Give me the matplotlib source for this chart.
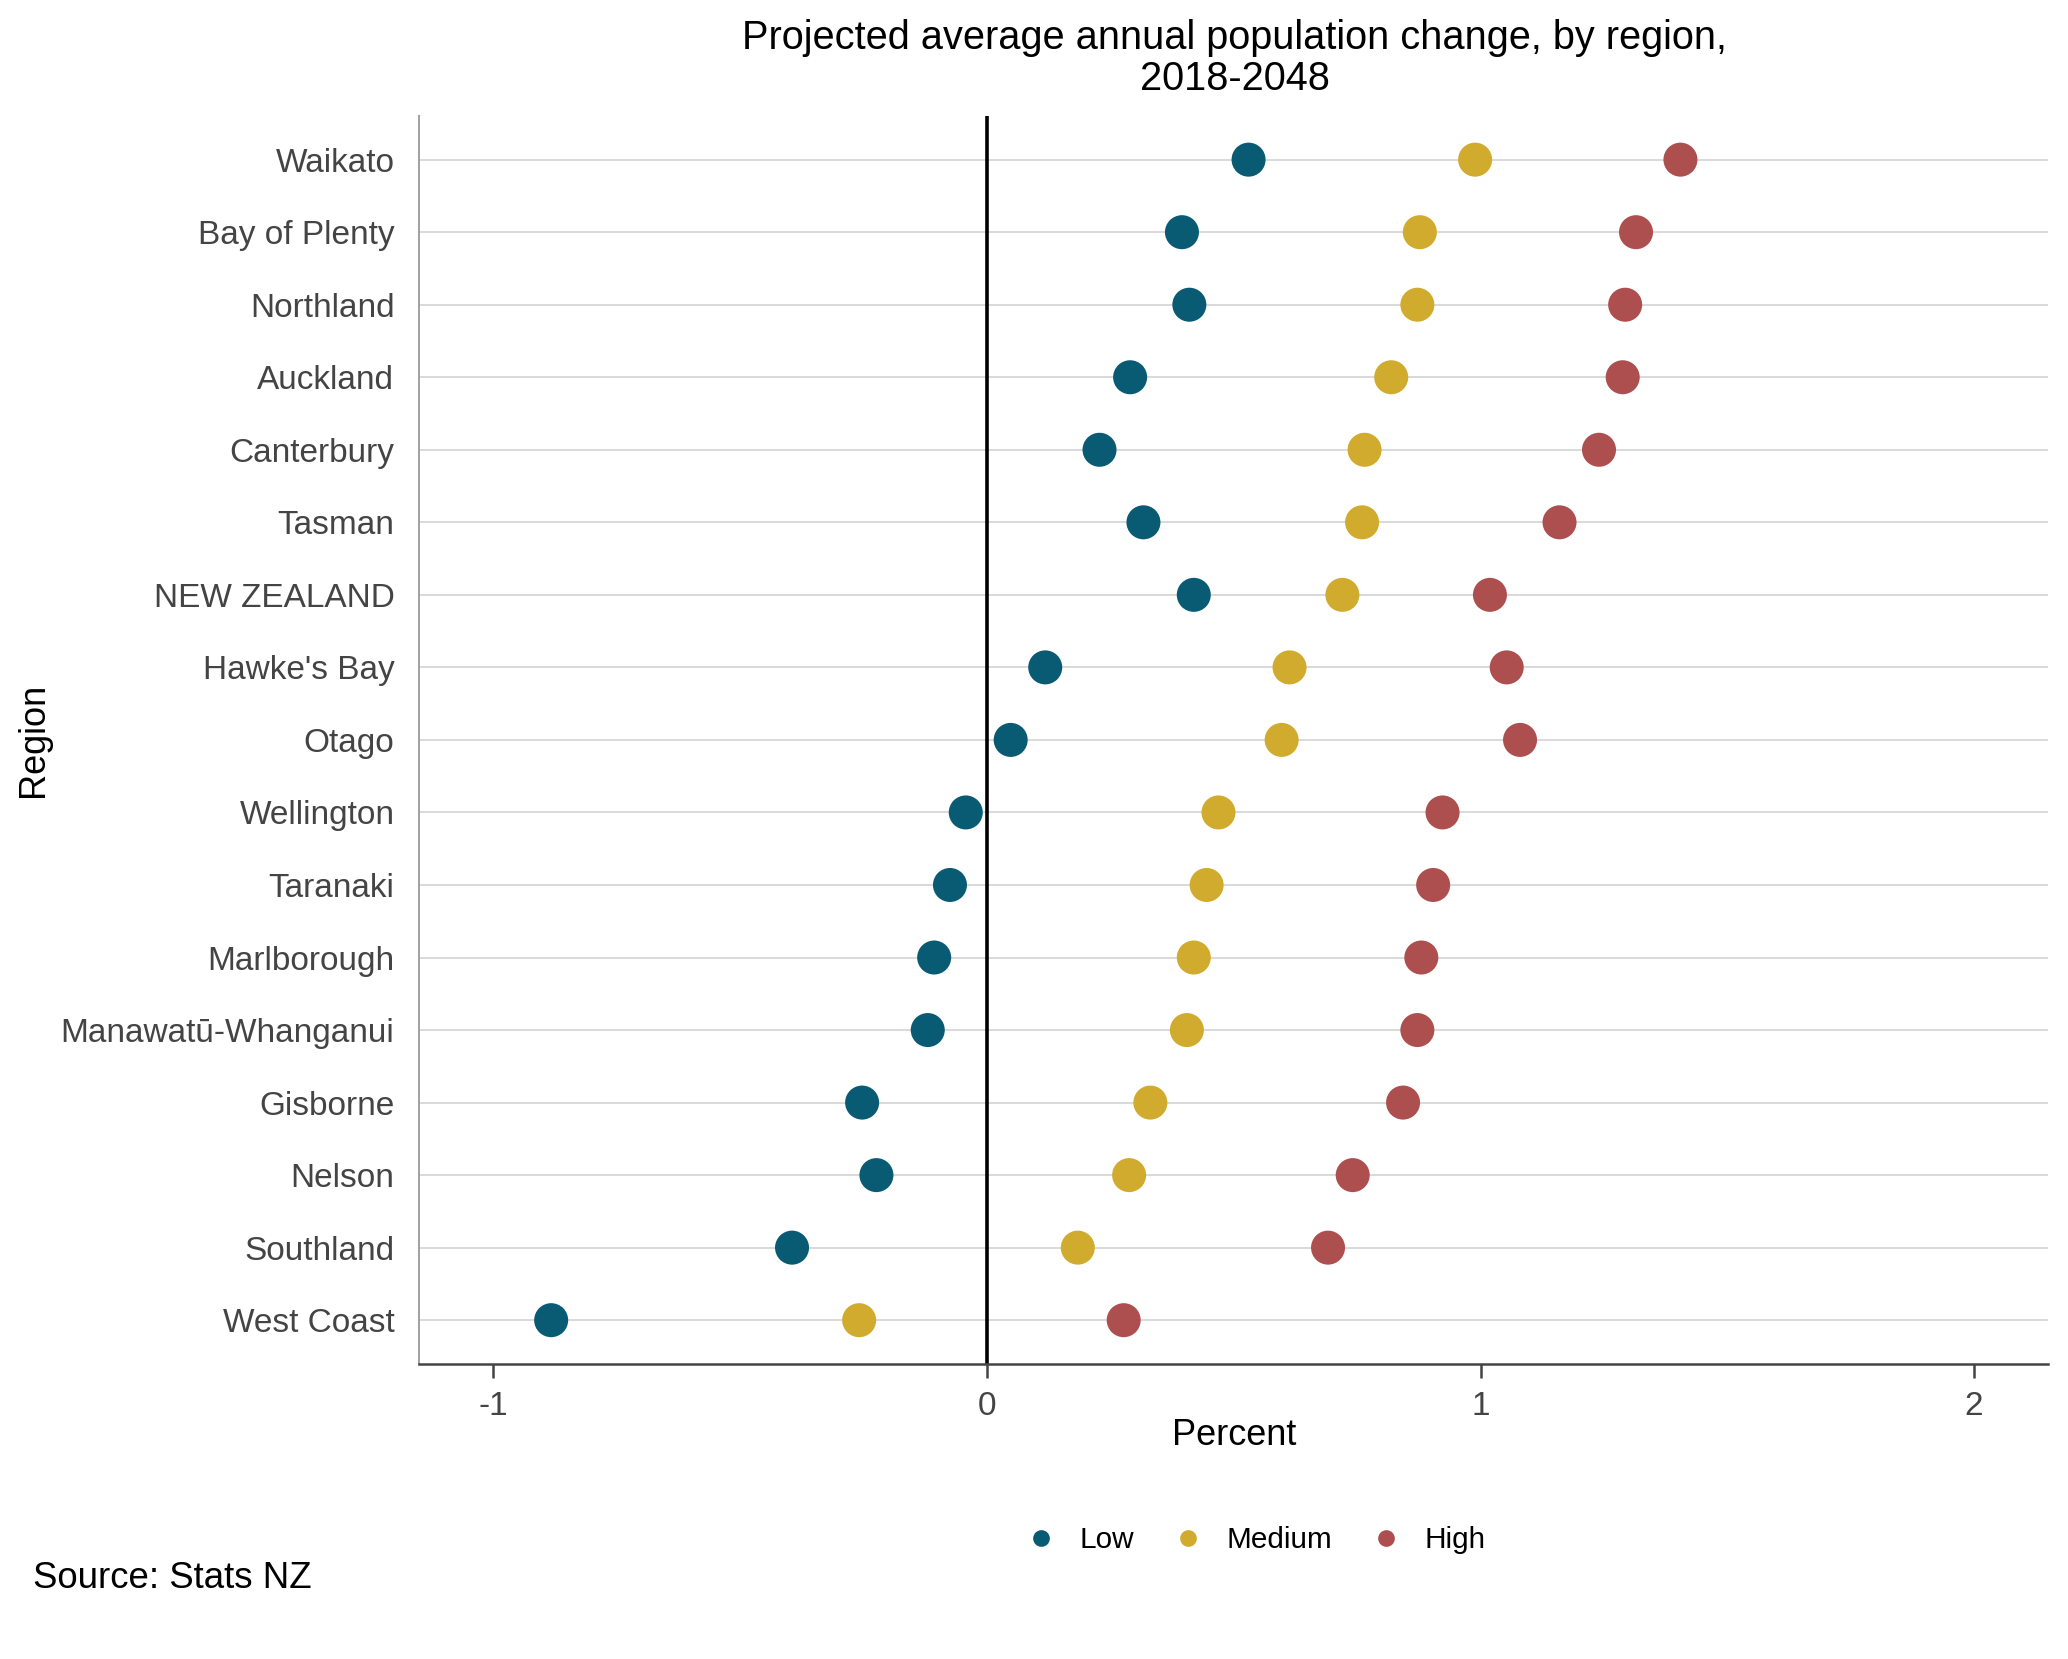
import numpy as np
import matplotlib.pyplot as plt
from matplotlib.lines import Line2D

plt.rcParams['font.family'] = ['Liberation Sans', 'DejaVu Sans']

# regions, top to bottom
regions = ['Waikato', 'Bay of Plenty', 'Northland', 'Auckland', 'Canterbury',
           'Tasman', 'NEW ZEALAND', "Hawke's Bay", 'Otago', 'Wellington',
           'Taranaki', 'Marlborough', 'Manawatū-Whanganui', 'Gisborne',
           'Nelson', 'Southland', 'West Coast']

low = [0.53, 0.395, 0.41, 0.29, 0.228, 0.317, 0.419, 0.118, 0.048, -0.043,
       -0.075, -0.107, -0.12, -0.253, -0.224, -0.395, -0.883]
medium = [0.989, 0.877, 0.872, 0.819, 0.765, 0.76, 0.72, 0.613, 0.597, 0.469,
          0.445, 0.419, 0.405, 0.331, 0.288, 0.184, -0.259]
high = [1.405, 1.315, 1.293, 1.288, 1.24, 1.16, 1.019, 1.053, 1.08, 0.923,
        0.904, 0.88, 0.872, 0.843, 0.741, 0.691, 0.277]

series = ['Low', 'Medium', 'High']
colors = ['#095b73', '#d1ab2e', '#ae4f4f']
xticks = [-1, 0, 1, 2]

fig = plt.figure(figsize=(10.34, 8.295), dpi=200)
ax = fig.add_axes([0.2028, 0.178, 0.7876, 0.752])

y = np.arange(len(regions))[::-1]
for i in y:
    ax.axhline(i, color='#d9d9d9', lw=0.7, zorder=0)
ax.axvline(0, color='black', lw=1.3, zorder=1)

for vals, c in zip([low, medium, high], colors):
    ax.scatter(vals, y, s=150, color=c, zorder=3, edgecolors='none')

ax.set_xlim(-1.15, 2.15)
ax.set_ylim(-0.6, len(regions) - 0.4)
ax.set_yticks(y)
ax.set_yticklabels(regions)
ax.set_xticks(xticks)
ax.set_xticklabels([str(t) for t in xticks])

for s in ['top', 'right']:
    ax.spines[s].set_visible(False)
ax.spines['left'].set_color('#a0a0a0')
ax.spines['left'].set_linewidth(0.7)
ax.spines['bottom'].set_color('#444444')
ax.spines['bottom'].set_linewidth(0.9)
ax.tick_params(axis='y', length=0, pad=9, labelsize=12, labelcolor='#444444')
ax.tick_params(axis='x', length=5, width=0.9, color='#444444', pad=5,
               labelsize=12, labelcolor='#444444')

fig.text(0.597, 0.965, 'Projected average annual population change, by region,\n2018-2048',
         ha='center', va='center', fontsize=14.3, linespacing=1.1)
fig.text(0.016, 0.554, 'Region', rotation=90, ha='center', va='center', fontsize=13)
fig.text(0.597, 0.135, 'Percent', ha='center', va='center', fontsize=13)
fig.text(0.016, 0.0485, 'Source: Stats NZ', ha='left', va='center', fontsize=13.2)

handles = [Line2D([], [], marker='o', ls='none', color=c, markersize=5)
           for c in colors]
fig.legend(handles, series, loc='center', bbox_to_anchor=(0.6065, 0.0715), ncol=3,
           frameon=False, fontsize=10.7, handletextpad=0.7, columnspacing=1.2,
           handlelength=1.2)

fig.savefig('out.png', dpi=200)
